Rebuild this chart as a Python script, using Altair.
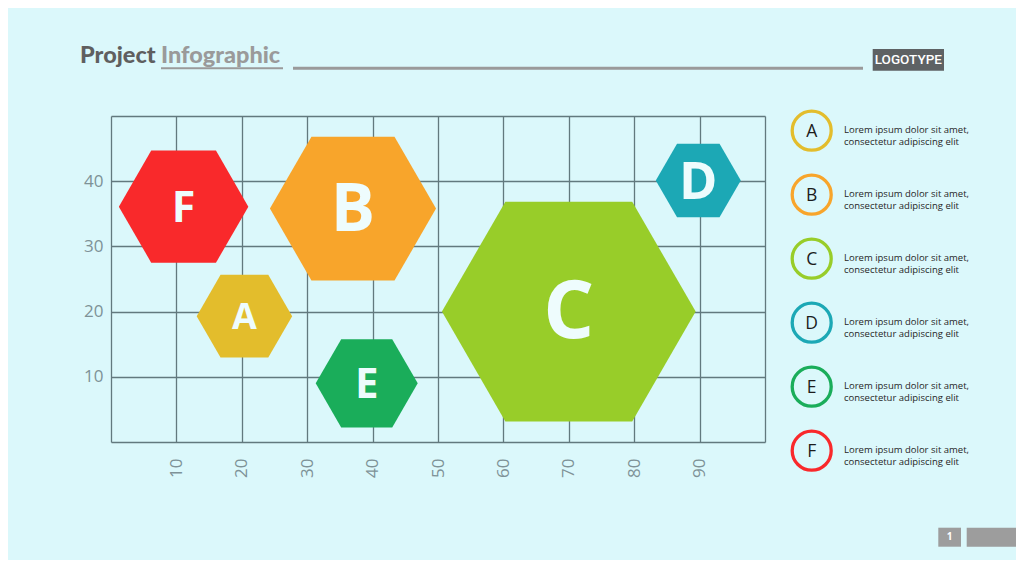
import altair as alt
import pandas as pd

# ---------------- data ----------------
letters = ["A", "B", "C", "D", "E", "F"]
x_vals = [20.4, 37.0, 70.0, 89.8, 39.1, 11.1]
y_vals = [19.3, 35.8, 20.0, 40.1, 9.0, 36.1]
radius = [7.3, 12.7, 19.4, 6.5, 7.8, 9.9]
line1 = ["Lorem ipsum dolor sit amet,"] * 6
line2 = ["consectetur adipiscing elit"] * 6
x_ticks = [0, 10, 20, 30, 40, 50, 60, 70, 80, 90, 100]
y_ticks = [0, 10, 20, 30, 40, 50]

# ---------------- styles ----------------
colors = ["#e3bd2c", "#f8a52b", "#98cd29", "#1ca8b5", "#1aad5a", "#f9292b"]
letter_font = {"A": 36, "B": 66, "C": 80, "D": 52, "E": 42, "F": 43}
BG = "#dbf8fb"
GRID = "#62797e"
W, H = 654, 326
HEX = "M-1,0L-0.5,-0.866L0.5,-0.866L1,0L0.5,0.866L-0.5,0.866Z"

df = pd.DataFrame({"letter": letters, "x": x_vals, "y": y_vals, "radius": radius,
                   "line1": line1, "line2": line2})

color_scale = alt.Scale(domain=letters, range=colors)

x_enc = alt.X("x:Q", scale=alt.Scale(domain=[0, 100], nice=False, zero=True),
              axis=alt.Axis(values=x_ticks,
                            labelExpr="datum.value == 0 || datum.value == 100 ? '' : datum.label",
                            labelAngle=-90, labelFont="Open Sans", labelFontSize=17,
                            labelColor="#7e9297", labelPadding=16, ticks=False, tickSize=0,
                            domain=False, gridColor=GRID, gridWidth=1.3, gridOpacity=1,
                            title=None))
y_enc = alt.Y("y:Q", scale=alt.Scale(domain=[0, 50], nice=False, zero=True),
              axis=alt.Axis(values=y_ticks,
                            labelExpr="datum.value == 0 || datum.value == 50 ? '' : datum.label",
                            labelFont="Open Sans", labelFontSize=17,
                            labelColor="#7e9297", labelPadding=8, ticks=False, tickSize=0,
                            domain=False, gridColor=GRID, gridWidth=1.3, gridOpacity=1,
                            title=None))

hexes = alt.Chart(df).mark_point(shape=HEX, filled=True, opacity=1, strokeWidth=0).encode(
    x=x_enc, y=y_enc,
    color=alt.Color("letter:N", scale=color_scale, legend=None),
    size=alt.Size("radius:Q", scale=alt.Scale(type="pow", exponent=2, domain=[0, 50],
                                              range=[0, W * W], zero=True, nice=False),
                  legend=None),
)
hex_texts = []
for L in letters:
    hex_texts.append(
        alt.Chart(df).transform_filter(alt.datum.letter == L).mark_text(
            font="Open Sans", fontWeight="bold", color="#eefcfd", fontSize=letter_font[L],
            baseline="middle", dy=2).encode(x="x:Q", y="y:Q", text="letter:N")
    )
main = alt.layer(hexes, *hex_texts)

# ---------------- legend ----------------
ly = alt.Y("letter:N", scale=alt.Scale(type="point", domain=letters, range=[14.7, 334.7],
                                       padding=0), axis=None)
leg_circ = alt.Chart(df).mark_point(shape="circle", filled=False, strokeWidth=3.3,
                                    size=1521, opacity=1).encode(
    x=alt.value(700.7), y=ly, color=alt.Color("letter:N", scale=color_scale, legend=None))
leg_letter = alt.Chart(df).mark_text(font="Open Sans", fontSize=17.5, color="#1c1c1c",
                                     baseline="middle", dy=1).encode(
    x=alt.value(700.7), y=ly, text="letter:N")
leg_t1 = alt.Chart(df).mark_text(font="Open Sans", fontSize=9.5, color="#262626",
                                 align="left", baseline="alphabetic", dy=2.6).encode(
    x=alt.value(733), y=ly, text="line1:N")
leg_t2 = alt.Chart(df).mark_text(font="Open Sans", fontSize=9.5, color="#262626",
                                 align="left", baseline="alphabetic", dy=14.3).encode(
    x=alt.value(733), y=ly, text="line2:N")
legend = alt.layer(leg_circ, leg_letter, leg_t1, leg_t2)

# ---------------- decorations ----------------
one = pd.DataFrame({"t": ["Project"], "u": ["Infographic"], "l": ["LOGOTYPE"], "p": ["1"]})
title1 = alt.Chart(one).mark_text(font="Lato", fontWeight=900, fontSize=23.5, color="#5f5f5f",
                                  align="left", baseline="alphabetic").encode(
    x=alt.value(-31), y=alt.value(-52.7), text="t:N")
title2 = alt.Chart(one).mark_text(font="Lato", fontWeight=900, fontSize=23.5, color="#9a9a9a",
                                  align="left", baseline="alphabetic").encode(
    x=alt.value(50), y=alt.value(-52.7), text="u:N")
uline = alt.Chart(one).mark_rule(color="#9a9a9a", strokeWidth=2).encode(
    x=alt.value(50), x2=alt.value(172), y=alt.value(-47.7))
longline = alt.Chart(one).mark_rule(color="#9a9a9a", strokeWidth=3).encode(
    x=alt.value(182), x2=alt.value(752), y=alt.value(-47.7))
logo_box = alt.Chart(one).mark_rect(color="#5e6264").encode(
    x=alt.value(761.7), x2=alt.value(833), y=alt.value(-67), y2=alt.value(-45.3))
logo_txt = alt.Chart(one).mark_text(font="Roboto", fontWeight=500, fontSize=13.5,
                                    color="#ffffff", baseline="middle", align="center").encode(
    x=alt.value(797.3), y=alt.value(-55.8), text="l:N")
page_box = alt.Chart(one).mark_rect(color="#9d9d9d").encode(
    x=alt.value(827.3), x2=alt.value(850), y=alt.value(411.7), y2=alt.value(430.7))
page_txt = alt.Chart(one).mark_text(font="Open Sans", fontWeight="bold", fontSize=10,
                                    color="#ffffff", baseline="middle").encode(
    x=alt.value(838.7), y=alt.value(421.2), text="p:N")
page_bar = alt.Chart(one).mark_rect(color="#9d9d9d").encode(
    x=alt.value(855.7), x2=alt.value(905), y=alt.value(411.7), y2=alt.value(430.7))

chart = alt.layer(
    main, legend, title1, title2, uline, longline, logo_box, logo_txt, page_box, page_txt, page_bar
).resolve_scale(y="independent").properties(
    width=W, height=H,
    padding={"left": 103, "top": 108, "right": 251, "bottom": 118},
    autosize=alt.AutoSizeParams(type="none"),
    background=BG,
).configure_view(stroke=None)

chart.save("out.html", embed_options={"renderer": "svg", "actions": False})
